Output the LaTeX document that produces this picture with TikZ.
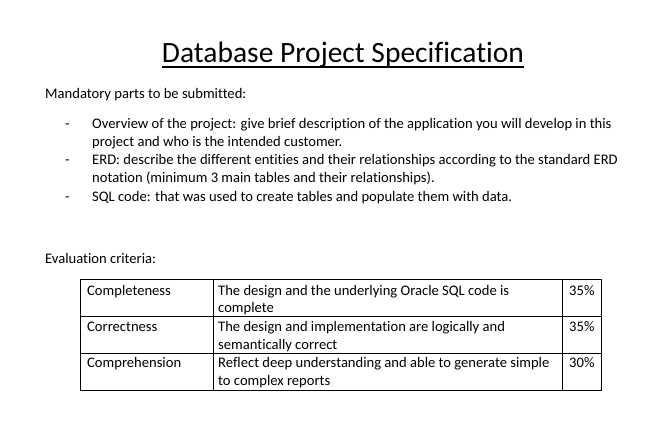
\documentclass[tikz,border=0pt]{standalone}
\usepackage{fontspec}
\setmainfont[Ligatures=NoCommon]{Carlito}
\begin{document}
\begin{tikzpicture}[x=1pt,y=-1pt,
  txt/.style={anchor=base west,inner sep=0pt,font=\fontsize{14.6}{16}\selectfont},
  tbl/.style={line width=0.8pt}]
\useasboundingbox (0,0) rectangle (665,437);
\node[anchor=base,inner sep=0pt,font=\fontsize{29.5}{32}\selectfont] (title) at (343,62) {Database Project Specification};
\path (title.base west) ++(0,5) coordinate (ul1);
\path (title.base east) ++(0,5) coordinate (ul2);
\draw[line width=1.3pt] (ul1) -- (ul2);
\node[txt] (m) at (45,98) {Mandatory parts to be submitted:};
\node[txt] (d1) at (65,128) {-};
\node[txt] (b1a) at (92,128) {Overview of the project: give brief description of the application you will develop in this};
\node[txt] (b1b) at (92,146) {project and who is the intended customer.};
\node[txt] (d2) at (65,164) {-};
\node[txt] (b2a) at (92,164) {ERD: describe the different entities and their relationships according to the standard ERD};
\node[txt] (b2b) at (92,182) {notation (minimum 3 main tables and their relationships).};
\node[txt] (d3) at (65,201) {-};
\node[txt] (b3) at (92,201) {SQL code: that was used to create tables and populate them with data.};
\node[txt] (e) at (45,263) {Evaluation criteria:};
% table
\draw[tbl] (80,279) rectangle (601,390);
\draw[tbl] (80,316) -- (601,316);
\draw[tbl] (80,353) -- (601,353);
\draw[tbl] (213,279) -- (213,390);
\draw[tbl] (562,279) -- (562,390);
\node[txt] (r1a) at (87,295) {Completeness};
\node[txt] (r1b) at (218,295) {The design and the underlying Oracle SQL code is};
\node[txt] (r1c) at (218,312) {complete};
\node[txt] (r1d) at (569,295) {35\%};
\node[txt] (r2a) at (87,331) {Correctness};
\node[txt] (r2b) at (218,331) {The design and implementation are logically and};
\node[txt] (r2c) at (218,349) {semantically correct};
\node[txt] (r2d) at (569,331) {35\%};
\node[txt] (r3a) at (87,367) {Comprehension};
\node[txt] (r3b) at (218,367) {Reflect deep understanding and able to generate simple};
\node[txt] (r3c) at (218,385) {to complex reports};
\node[txt] (r3d) at (569,367) {30\%};
\end{tikzpicture}
\end{document}
